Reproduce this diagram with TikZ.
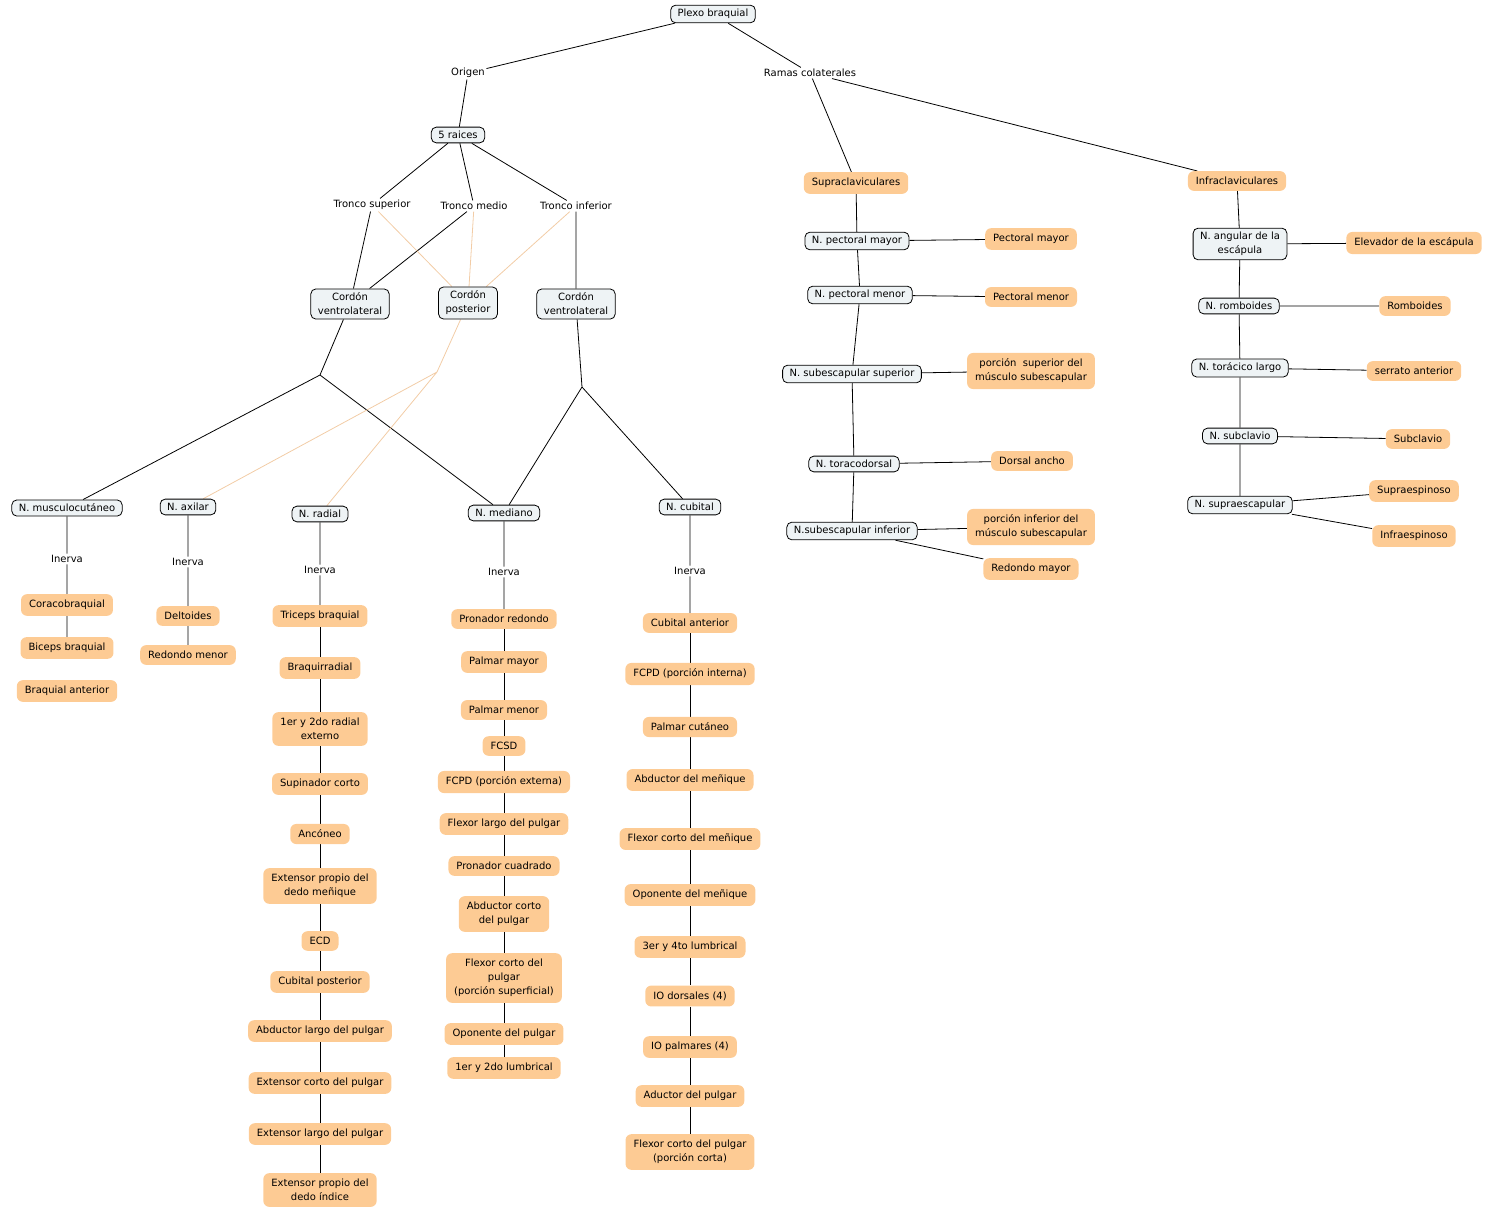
\documentclass[tikz,border=0pt]{standalone}
\usepackage{fontspec}
\setmainfont{DejaVu Sans}
\usetikzlibrary{backgrounds}
\definecolor{bfill}{RGB}{238,243,245}
\definecolor{ofill}{RGB}{253,203,148}
\definecolor{oline}{RGB}{242,204,166}
\begin{document}
\begin{tikzpicture}[x=1pt,y=1pt,
  every node/.style={font=\fontsize{10}{14}\selectfont,align=center},
  B/.style={draw=black,fill=bfill,rounded corners=5pt,inner xsep=7pt,inner ysep=4pt,line width=0.8pt},
  O/.style={fill=ofill,rounded corners=6pt,inner xsep=8pt,inner ysep=6pt},
  T/.style={fill=white,inner sep=1.5pt},
  J/.style={inner sep=0pt,minimum size=0pt},
  ln/.style={draw=black,line width=0.8pt},
  ol/.style={draw=oline,line width=0.8pt}]
\useasboundingbox (0,0) rectangle (1496,-1213);
\newcommand\nd[5]{\node[#4] (#1) at (#2,-#3) {#5};}
% top
\nd{plexo}{713}{14}{B}{Plexo braquial}
\nd{origen}{468}{73}{T}{Origen}
\nd{ramas}{810}{73}{T}{Ramas colaterales}
\nd{raices}{458}{135}{B}{5 raices}
\nd{tsup}{372}{205}{T}{Tronco superior}
\nd{tmed}{474}{206}{T}{Tronco medio}
\nd{tinf}{576}{206}{T}{Tronco inferior}
\nd{cvl1}{350}{304}{B}{Cordón\\ventrolateral}
\nd{cpost}{468}{303}{B}{Cordón\\posterior}
\nd{cvl2}{576}{304}{B}{Cordón\\ventrolateral}
\coordinate (j1) at (320,-375);
\coordinate (j2) at (437,-372);
\coordinate (j3) at (582,-387);
\nd{musc}{67}{508}{B}{N. musculocutáneo}
\nd{axil}{188}{507}{B}{N. axilar}
\nd{radi}{320}{514}{B}{N. radial}
\nd{medi}{504}{513}{B}{N. mediano}
\nd{cubi}{690}{507}{B}{N. cubital}
% musculocutaneo
\nd{mi}{67}{559}{T}{Inerva}
\nd{m1}{67}{605}{O}{Coracobraquial}
\nd{m2}{67}{648}{O}{Biceps braquial}
\nd{m3}{67}{691}{O}{Braquial anterior}
% axilar
\nd{ai}{188}{562}{T}{Inerva}
\nd{a1}{188}{616}{O}{Deltoides}
\nd{a2}{188}{655}{O}{Redondo menor}
% radial
\nd{ri}{320}{570}{T}{Inerva}
\nd{r1}{320}{616}{O}{Triceps braquial}
\nd{r2}{320}{668}{O}{Braquirradial}
\nd{r3}{320}{729}{O}{1er y 2do radial\\externo}
\nd{r4}{320}{784}{O}{Supinador corto}
\nd{r5}{320}{834}{O}{Ancóneo}
\nd{r6}{320}{886}{O}{Extensor propio del\\dedo meñique}
\nd{r7}{320}{941}{O}{ECD}
\nd{r8}{320}{982}{O}{Cubital posterior}
\nd{r9}{320}{1031}{O}{Abductor largo del pulgar}
\nd{r10}{320}{1083}{O}{Extensor corto del pulgar}
\nd{r11}{320}{1134}{O}{Extensor largo del pulgar}
\nd{r12}{320}{1190}{O}{Extensor propio del\\dedo índice}
% mediano
\nd{di}{504}{572}{T}{Inerva}
\nd{d1}{504}{619}{O}{Pronador redondo}
\nd{d2}{504}{662}{O}{Palmar mayor}
\nd{d3}{504}{710}{O}{Palmar menor}
\nd{d4}{504}{746}{O}{FCSD}
\nd{d5}{504}{782}{O}{FCPD (porción externa)}
\nd{d6}{504}{824}{O}{Flexor largo del pulgar}
\nd{d7}{504}{866}{O}{Pronador cuadrado}
\nd{d8}{504}{914}{O}{Abductor corto\\del pulgar}
\nd{d9}{504}{978}{O}{Flexor corto del\\pulgar\\(porción superficial)}
\nd{d10}{504}{1034}{O}{Oponente del pulgar}
\nd{d11}{504}{1068}{O}{1er y 2do lumbrical}
% cubital
\nd{ci}{690}{571}{T}{Inerva}
\nd{c1}{690}{623}{O}{Cubital anterior}
\nd{c2}{690}{674}{O}{FCPD (porción interna)}
\nd{c3}{690}{727}{O}{Palmar cutáneo}
\nd{c4}{690}{780}{O}{Abductor del meñique}
\nd{c5}{690}{839}{O}{Flexor corto del meñique}
\nd{c6}{690}{895}{O}{Oponente del meñique}
\nd{c7}{690}{947}{O}{3er y 4to lumbrical}
\nd{c8}{690}{996}{O}{IO dorsales (4)}
\nd{c9}{690}{1047}{O}{IO palmares (4)}
\nd{c10}{690}{1096}{O}{Aductor del pulgar}
\nd{c11}{690}{1152}{O}{Flexor corto del pulgar\\(porción corta)}
% right: supra
\nd{supra}{856}{183}{O}{Supraclaviculares}
\nd{infra}{1237}{181}{O}{Infraclaviculares}
\nd{s1}{857}{241}{B}{N. pectoral mayor}
\nd{s1o}{1031}{239}{O}{Pectoral mayor}
\nd{s2}{860}{295}{B}{N. pectoral menor}
\nd{s2o}{1031}{297}{O}{Pectoral menor}
\nd{s3}{852}{374}{B}{N. subescapular superior}
\nd{s3o}{1031}{371}{O}{porción~ superior del\\músculo subescapular}
\nd{s4}{854}{464}{B}{N. toracodorsal}
\nd{s4o}{1032}{461}{O}{Dorsal ancho}
\nd{s5}{852}{531}{B}{N.subescapular inferior}
\nd{s5o}{1031}{527}{O}{porción inferior del\\músculo subescapular}
\nd{s5p}{1031}{569}{O}{Redondo mayor}
% infra
\nd{i1}{1240}{244}{B}{N. angular de la\\escápula}
\nd{i1o}{1414}{243}{O}{Elevador de la escápula}
\nd{i2}{1239}{306}{B}{N. romboides}
\nd{i2o}{1415}{306}{O}{Romboides}
\nd{i3}{1240}{368}{B}{N. torácico largo}
\nd{i3o}{1414}{371}{O}{serrato anterior}
\nd{i4}{1240}{436}{B}{N. subclavio}
\nd{i4o}{1418}{439}{O}{Subclavio}
\nd{i5}{1240}{505}{B}{N. supraescapular}
\nd{i5o}{1414}{491}{O}{Supraespinoso}
\nd{i5p}{1414}{536}{O}{Infraespinoso}
\begin{pgfonlayer}{background}
\path[ln] (plexo)--(origen) (origen)--(raices) (plexo)--(ramas)
  (raices)--(tsup) (raices)--(tmed) (raices)--(tinf)
  (tsup)--(cvl1) (tmed)--(cvl1) (tinf)--(cvl2)
  (cvl1)--(j1) (cvl2)--(j3)
  (j1)--(musc) (j1)--(medi) (j3)--(medi) (j3)--(cubi)
  (ramas)--(supra) (ramas)--(infra)
  (musc)--(mi) (mi)--(m1) (m1)--(m2)
  (axil)--(ai) (ai)--(a1) (a1)--(a2)
  (radi)--(ri) (ri)--(r1) (medi)--(di) (di)--(d1) (cubi)--(ci) (ci)--(c1)
  (supra)--(s1) (infra)--(i1);
\path[ol] (tsup)--(cpost) (tmed)--(cpost) (tinf)--(cpost) (cpost)--(j2)
  (j2)--(axil) (j2)--(radi);
\foreach \a/\b in {1/2,2/3,3/4,4/5,5/6,6/7,7/8,8/9,9/10,10/11,11/12}{\path[ln] (r\a)--(r\b);}
\foreach \a/\b in {1/2,2/3,3/4,4/5,5/6,6/7,7/8,8/9,9/10,10/11}{\path[ln] (d\a)--(d\b) (c\a)--(c\b);}
\foreach \a/\b in {1/2,2/3,3/4,4/5}{\path[ln] (s\a)--(s\b) (i\a)--(i\b);}
\foreach \a in {1,...,5}{\path[ln] (s\a)--(s\a o) (i\a)--(i\a o);}
\path[ln] (s5)--(s5p) (i5)--(i5p);
\end{pgfonlayer}
\end{tikzpicture}
\end{document}
